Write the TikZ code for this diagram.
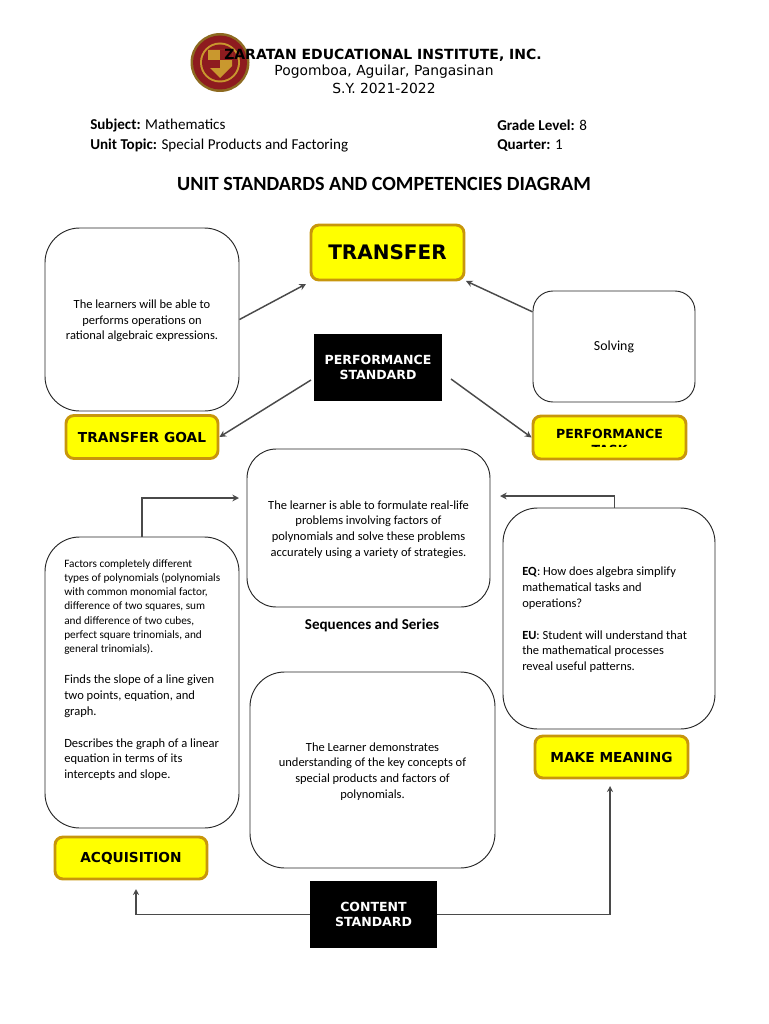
\documentclass[tikz,border=0pt]{standalone}
\usepackage{fontspec}
\setmainfont{Carlito}
\newfontfamily\headfont{DejaVu Sans}
\definecolor{goldline}{HTML}{C8960C}
\definecolor{tagyellow}{HTML}{FFFF00}
\definecolor{crest}{HTML}{8E1B1F}
\definecolor{crestgold}{HTML}{C9982E}
\definecolor{arrowgray}{HTML}{4A4A4A}
\def\px{0.75pt}
\newcommand\lift{\rule{0pt}{8.5pt}}
\usetikzlibrary{arrows.meta}
\tikzset{
    card/.style={draw=black!85, line width=0.7pt, fill=white, rectangle, align=center, inner sep=0pt},
    tag/.style={draw=goldline, line width=2.2pt, fill=tagyellow, rectangle, rounded corners=6pt, align=center, inner sep=0pt, font=\headfont\bfseries},
    stdbox/.style={fill=black, text=white, rectangle, align=center, inner sep=0pt, font=\headfont\bfseries\fontsize{9.4}{11.5}\selectfont},
    link/.style={draw=arrowgray, line width=1.1pt, -{Stealth[open, length=5pt, width=5pt]}},
    thinlink/.style={draw=arrowgray, line width=0.8pt, -{Stealth[open, length=4.5pt, width=4.5pt]}},
    bodytext/.style={font=\fontsize{9.35}{11.8}\selectfont},
    infotext/.style={anchor=west, inner sep=0pt, font=\fontsize{11.3}{13}\selectfont}
}
\begin{document}
\begin{tikzpicture}[x=\px, y=-\px]
    \useasboundingbox (0,0) rectangle (768,1024);

    % crest
    \fill[crestgold!70!black] (220,62.5) circle (29.5*\px);
    \fill[crest] (220,62.5) circle (27*\px);
    \fill[crestgold] (220,62.5) circle (20*\px);
    \fill[crest] (220,62.5) circle (18*\px);
    \fill[crestgold] (208,50) -- (232,50) -- (232,66) -- (220,78) -- (208,66) -- cycle;
    \fill[crest] (220,50) rectangle (232,60);
    \fill[crest] (208,60) rectangle (220,68);

    % heading
    \node[font=\headfont\bfseries\fontsize{10.5}{12}\selectfont] (school) at (383,55) {ZARATAN EDUCATIONAL INSTITUTE, INC.};
    \node[font=\headfont\fontsize{10.4}{12}\selectfont] (town) at (384,72) {Pogomboa, Aguilar, Pangasinan};
    \node[font=\headfont\fontsize{10.4}{12}\selectfont] (year) at (384,88) {S.Y. 2021-2022};
    \node[infotext] (subject) at (90,125) {\textbf{Subject:} Mathematics};
    \node[infotext] (topic) at (90,146) {\textbf{Unit Topic:} Special Products and Factoring};
    \node[infotext] (grade) at (497,125) {\textbf{Grade Level:} 8};
    \node[infotext] (quarter) at (497,146) {\textbf{Quarter:} 1};
    \node[font=\bfseries\fontsize{15.1}{18}\selectfont] (title) at (384,184) {UNIT STANDARDS AND COMPETENCIES DIAGRAM};

    % top row
    \node[tag, minimum width=153*\px, minimum height=55*\px, font=\headfont\bfseries\fontsize{15}{18}\selectfont] (transfer) at (387.5,252.5) {TRANSFER};
    \node[card, bodytext, rounded corners=26pt, minimum width=194*\px, minimum height=183*\px] (goalcard) at (142,319.5)
        {\lift The learners will be able to\\performs operations on\\rational algebraic expressions.};
    \node[card, rounded corners=15pt, minimum width=162*\px, minimum height=111*\px, font=\fontsize{10.4}{12}\selectfont] (taskcard) at (614,346.5) {\lift Solving};
    \node[stdbox, minimum width=128*\px, minimum height=67*\px] (perfstd) at (378,367.5) {PERFORMANCE\\STANDARD};
    \node[tag, minimum width=152*\px, minimum height=43*\px, font=\headfont\bfseries\fontsize{10.3}{12}\selectfont] (goaltag) at (142,437) {TRANSFER GOAL};
    \node[tag, minimum width=153*\px, minimum height=43*\px] (tasktag) at (609.5,437.5) {};
    \node[font=\headfont\bfseries\fontsize{9.4}{12}\selectfont, inner sep=0pt] (tasktext) at (609.5,434) {PERFORMANCE};
    \begin{scope}
        \clip (560,440) rectangle (660,446.5);
        \node[font=\headfont\bfseries\fontsize{9.4}{12}\selectfont, inner sep=0pt] (taskclip) at (609.5,449.5) {TASK};
    \end{scope}

    % middle and bottom
    \node[card, bodytext, rounded corners=22pt, minimum width=243*\px, minimum height=158*\px] (skillcard) at (368.5,528)
        {\lift The learner is able to formulate real-life\\problems involving factors of\\polynomials and solve these problems\\accurately using a variety of strategies.};
    \node[font=\bfseries\fontsize{11.3}{13}\selectfont] (series) at (372,625) {Sequences and Series};
    \node[card, bodytext, rounded corners=26pt, minimum width=245*\px, minimum height=196*\px] (knowcard) at (372.5,770)
        {\lift The Learner demonstrates\\understanding of the key concepts of\\special products and factors of\\polynomials.};
    \node[card, rounded corners=26pt, minimum width=194*\px, minimum height=291*\px] (acqcard) at (142,682.5) {};
    \node[anchor=north west, inner sep=0pt, align=left, font=\fontsize{8.45}{10.6}\selectfont] (acqsmall) at (64,559.5)
        {Factors completely different\\
         types of polynomials (polynomials\\
         with common monomial factor,\\
         difference of two squares, sum\\
         and difference of two cubes,\\
         perfect square trinomials, and\\
         general trinomials).};
    \node[anchor=north west, inner sep=0pt, align=left, font=\fontsize{9.4}{11.8}\selectfont] (acqlarge) at (64,675)
        {Finds the slope of a line given\\
         two points, equation, and\\
         graph.\\[12pt]
         Describes the graph of a linear\\
         equation in terms of its\\
         intercepts and slope.};
    \node[card, rounded corners=26pt, minimum width=212*\px, minimum height=221*\px] (meancard) at (609,618.5) {};
    \node[anchor=west, inner sep=0pt, align=left, bodytext] (meantext) at (522,618.5)
        {\lift\textbf{EQ}: How does algebra simplify\\
         mathematical tasks and\\
         operations?\\[12pt]
         \textbf{EU}: Student will understand that\\
         the mathematical processes\\
         reveal useful patterns.};
    \node[tag, minimum width=153*\px, minimum height=42*\px, font=\headfont\bfseries\fontsize{10.3}{12}\selectfont] (meantag) at (611.5,757) {MAKE MEANING};
    \node[tag, minimum width=152*\px, minimum height=42*\px, font=\headfont\bfseries\fontsize{10.3}{12}\selectfont] (acqtag) at (131,858) {ACQUISITION};
    \node[stdbox, minimum width=127*\px, minimum height=67*\px] (contentstd) at (373.5,914.5) {CONTENT\\STANDARD};

    % free arrow ends
    \coordinate (goalend) at (306,284);
    \coordinate (solveend) at (466,281);
    \coordinate (skillleft) at (239,498);
    \coordinate (skillright) at (500,496);
    \coordinate (acqend) at (136,889);
    \coordinate (meanend) at (610,786);
    \coordinate (stdleft) at (311,380);
    \coordinate (stdright) at (451,379);

    \draw[link] (goalcard.east) -- (goalend);
    \draw[link] ([yshift=-16pt]taskcard.north west) -- (solveend);
    \draw[link] (stdleft) -- (goaltag.east);
    \draw[link] (stdright) -- (tasktag.west);
    \draw[link] (acqcard.north) |- (skillleft);
    \draw[link] ([xshift=4pt]meancard.north) |- (skillright);
    \draw[thinlink] (contentstd.west) -| (acqend);
    \draw[thinlink] (contentstd.east) -| (meanend);
\end{tikzpicture}
\end{document}
